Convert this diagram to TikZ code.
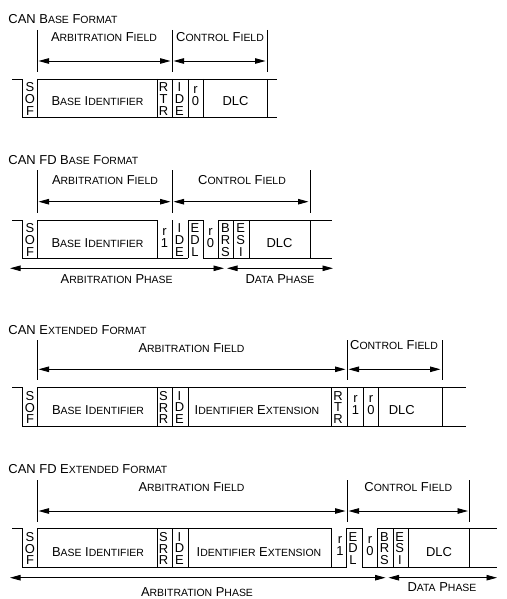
\documentclass[tikz,border=0pt]{standalone}
\usepackage{fontspec}
\setmainfont{Liberation Sans}
\usetikzlibrary{arrows.meta}
\newcommand{\sm}[1]{{\fontsize{10.5}{12}\selectfont #1}}

\begin{document}
\begin{tikzpicture}[x=1bp,y=-1bp,line width=0.9bp,
    bit/.style={align=center,inner sep=0pt,font=\fontsize{13}{11.8}\selectfont},
    lbl/.style={inner sep=0pt,anchor=base,font=\fontsize{13}{15}\selectfont},
    ttl/.style={lbl,anchor=base west},
    arr/.style={{Triangle[length=10.5bp,width=5.5bp]}-{Triangle[length=10.5bp,width=5.5bp]},shorten <=1.5bp,shorten >=1.5bp}]
    \useasboundingbox (0,0) rectangle (507,599);

    \node[ttl] (t1) at (8,24) {CAN B\sm{ASE} F\sm{ORMAT}};
    \node[lbl] (arb1) at (104,41.7) {A\sm{RBITRATION} F\sm{IELD}};
    \node[lbl] (ctl1) at (220,41.7) {C\sm{ONTROL} F\sm{IELD}};
    \foreach \x in {37,172,267} \draw (\x,30) -- (\x,72);
    \coordinate (a1) at (37,61);
    \coordinate (m1) at (172,61);
    \coordinate (e1) at (267,61);
    \draw[arr] (a1) -- (m1);
    \draw[arr] (m1) -- (e1);
    \draw (12,79) -- (22,79) -- (22,117) -- (277,117);
    \draw (37,79) -- (277,79);
    \foreach \x in {37,157,172,188,203,267} \draw (\x,79) -- (\x,117);
    \node[bit] (sof1) at (30,99) {S\\O\\F};
    \node[lbl] (bid1) at (97.5,105.5) {B\sm{ASE} I\sm{DENTIFIER}};
    \node[bit] (rtr1) at (163.5,99) {R\\T\\R};
    \node[bit] (ide1) at (179.5,99) {I\\D\\E};
    \node[bit] (rz1) at (195.5,96) {r\\0};
    \node[lbl] (dlc1) at (235.5,105.5) {DLC};

    \node[ttl] (t2) at (8,165) {CAN FD B\sm{ASE} F\sm{ORMAT}};
    \node[lbl] (arb2) at (105,184) {A\sm{RBITRATION} F\sm{IELD}};
    \node[lbl] (ctl2) at (242,184) {C\sm{ONTROL} F\sm{IELD}};
    \foreach \x in {37,172,310} \draw (\x,170) -- (\x,213);
    \coordinate (a2) at (37,201.7);
    \coordinate (m2) at (172,201.7);
    \coordinate (e2) at (310,201.7);
    \draw[arr] (a2) -- (m2);
    \draw[arr] (m2) -- (e2);
    \draw (12,220) -- (22,220) -- (22,258) -- (188,258);
    \draw (37,220) -- (157,220);
    \draw (188,220) -- (203,220);
    \draw (218,220) -- (332,220);
    \draw (203,258) -- (332,258);
    \foreach \x in {37,157,172,188,203,218,233,249,310} \draw (\x,220) -- (\x,258);
    \node[bit] (sof2) at (30,240) {S\\O\\F};
    \node[lbl] (bid2) at (97.5,247.3) {B\sm{ASE} I\sm{DENTIFIER}};
    \node[bit] (rone2) at (164.5,238) {r\\1};
    \node[bit] (ide2) at (179.5,240) {I\\D\\E};
    \node[bit] (edl2) at (195,240) {E\\D\\L};
    \node[bit] (rz2) at (210.5,238) {r\\0};
    \node[bit] (brs2) at (225.5,240) {B\\R\\S};
    \node[bit] (esi2) at (240.8,240) {E\\S\\I};
    \node[lbl] (dlc2) at (279.5,247.3) {DLC};
    \coordinate (p2a) at (8.5,268.3);
    \coordinate (p2m) at (225.5,268.3);
    \coordinate (p2e) at (334.5,268.3);
    \draw[arr] (p2a) -- (p2m);
    \draw[arr] (p2m) -- (p2e);
    \node[lbl] (ap2) at (116.7,283.3) {A\sm{RBITRATION} P\sm{HASE}};
    \node[lbl] (dp2) at (280,283.3) {D\sm{ATA} P\sm{HASE}};

    \node[ttl] (t3) at (8,334) {CAN E\sm{XTENDED} F\sm{ORMAT}};
    \node[lbl] (arb3) at (191.5,352) {A\sm{RBITRATION} F\sm{IELD}};
    \node[lbl] (ctl3) at (394,349.3) {C\sm{ONTROL} F\sm{IELD}};
    \foreach \x in {37,347,442} \draw (\x,340) -- (\x,380);
    \coordinate (a3) at (37,369.3);
    \coordinate (m3) at (347,369.3);
    \coordinate (e3) at (442,369.3);
    \draw[arr] (a3) -- (m3);
    \draw[arr] (m3) -- (e3);
    \draw (12,387) -- (22,387) -- (22,426) -- (466,426);
    \draw (37,387) -- (466,387);
    \foreach \x in {37,157,172,188,331,347,363,378,442} \draw (\x,387) -- (\x,426);
    \node[bit] (sof3) at (30,407.5) {S\\O\\F};
    \node[lbl] (bid3) at (98,414.3) {B\sm{ASE} I\sm{DENTIFIER}};
    \node[bit] (srr3) at (163.5,407.5) {S\\R\\R};
    \node[bit] (ide3) at (179.5,407.5) {I\\D\\E};
    \node[lbl] (idx3) at (257,414.3) {I\sm{DENTIFIER} E\sm{XTENSION}};
    \node[bit] (rtr3) at (338,407.5) {R\\T\\R};
    \node[bit] (rone3) at (355.5,405) {r\\1};
    \node[bit] (rz3) at (371,405) {r\\0};
    \node[lbl] (dlc3) at (401.7,414.3) {DLC};

    \node[ttl] (t4) at (8,473.3) {CAN FD E\sm{XTENDED} F\sm{ORMAT}};
    \node[lbl] (arb4) at (191.5,491.7) {A\sm{RBITRATION} F\sm{IELD}};
    \node[lbl] (ctl4) at (408.3,491.7) {C\sm{ONTROL} F\sm{IELD}};
    \foreach \x in {37,347,469.5} \draw (\x,480) -- (\x,522);
    \coordinate (a4) at (37,511);
    \coordinate (m4) at (347,511);
    \coordinate (e4) at (469.5,511);
    \draw[arr] (a4) -- (m4);
    \draw[arr] (m4) -- (e4);
    \draw (12,528) -- (22,528) -- (22,567) -- (346.5,567);
    \draw (37,528) -- (331,528);
    \draw (346.5,528) -- (362,528);
    \draw (377.5,528) -- (497,528);
    \draw (362,567) -- (497,567);
    \foreach \x in {37,157,172,188,331,346.5,362,377.5,393,408.5,469.5} \draw (\x,528) -- (\x,567);
    \node[bit] (sof4) at (30,548.5) {S\\O\\F};
    \node[lbl] (bid4) at (98,556.7) {B\sm{ASE} I\sm{DENTIFIER}};
    \node[bit] (srr4) at (163.5,548.5) {S\\R\\R};
    \node[bit] (ide4) at (179.5,548.5) {I\\D\\E};
    \node[lbl] (idx4) at (259,556.7) {I\sm{DENTIFIER} E\sm{XTENSION}};
    \node[bit] (rone4) at (340,546) {r\\1};
    \node[bit] (edl4) at (353,548.5) {E\\D\\L};
    \node[bit] (rz4) at (370,546) {r\\0};
    \node[bit] (brs4) at (384.5,548.5) {B\\R\\S};
    \node[bit] (esi4) at (399.8,548.5) {E\\S\\I};
    \node[lbl] (dlc4) at (439,556.7) {DLC};
    \coordinate (p4a) at (8.5,577.7);
    \coordinate (p4m) at (387,577.7);
    \coordinate (p4e) at (498.5,577.7);
    \draw[arr] (p4a) -- (p4m);
    \draw[arr] (p4m) -- (p4e);
    \node[lbl] (ap4) at (197,596.5) {A\sm{RBITRATION} P\sm{HASE}};
    \node[lbl] (dp4) at (442,591.5) {D\sm{ATA} P\sm{HASE}};
\end{tikzpicture}
\end{document}
